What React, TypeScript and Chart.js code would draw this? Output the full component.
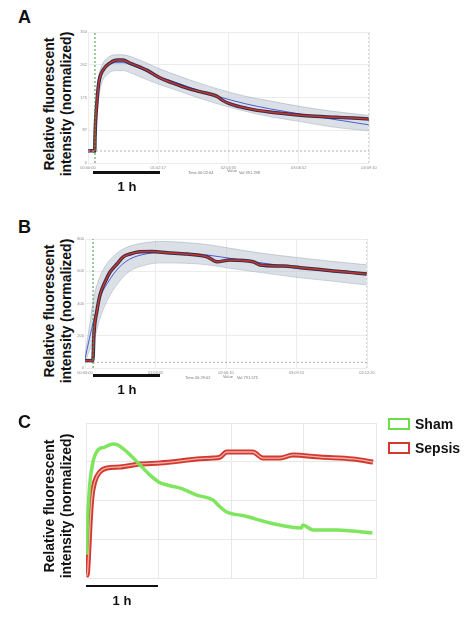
import React, { useEffect, useRef } from 'react';
import { Chart, registerables } from 'chart.js';

Chart.register(...registerables);

const FONT = 'Arial, "Liberation Sans", Helvetica, sans-serif';

// ---------------- Panel A (minutes, raw units) ----------------
const A_X_MAX = 249.2;
const A_X_TICKS = [0, 62.3, 124.6, 186.9, 249.2];
const A_X_LABELS = ['00:00:00', '01:02:17', '02:04:35', '03:06:52', '04:09:10'];
const A_Y_MAX = 350;
const A_Y_TICKS = [0, 87.5, 175, 262.5, 350];
const A_Y_LABELS = ['0', '87', '175', '262', '350'];
const A_INJECTION = 6.2;
const A_BASELINE = 32;
const A_DATA_T = [0, 3, 6.0, 6.2, 8.0, 9.8, 13.3, 19.5, 26, 31, 37, 52, 64, 75, 88, 100, 112, 115, 119, 126, 141, 161, 191, 206, 220, 235, 252];
const A_DATA_V = [32, 33, 32, 67, 166, 219, 248, 267, 275, 275, 267, 248, 227, 214, 200, 190, 181, 177, 168, 158, 146, 136, 127, 124, 122, 120, 117];
const A_FIT_T = [6.2, 7.5, 9, 12, 17, 24, 31, 40, 52, 64, 80, 100, 115, 140, 161, 190, 215, 249];
const A_FIT_V = [40, 130, 190, 235, 258, 268, 268, 260, 245, 230, 213, 192, 178, 158, 145, 130, 118, 102];
const A_BAND_HI = [70, 160, 218, 258, 280, 289, 289, 282, 267, 251, 233, 212, 198, 178, 166, 150, 139, 127];
const A_BAND_LO = [32, 100, 162, 212, 236, 247, 247, 238, 223, 209, 193, 172, 158, 138, 124, 110, 97, 86];

// ---------------- Panel B ----------------
const B_X_MAX = 252.3;
const B_X_TICKS = [0, 63.1, 126.2, 189.2, 252.3];
const B_X_LABELS = ['00:00:00', '01:03:05', '02:06:10', '03:09:15', '04:12:20'];
const B_Y_MAX = 800;
const B_Y_TICKS = [0, 200, 400, 600, 800];
const B_Y_LABELS = ['0', '200', '400', '600', '800'];
const B_INJECTION = 7.2;
const B_BASELINE = 35;
const B_DATA_T = [0, 3, 7.0, 8.1, 10.5, 13.4, 17.9, 22.4, 28.6, 34.0, 40.3, 49.2, 60, 73.4, 91.3, 109.2, 118.1, 129.7, 150.3, 156.6, 177.2, 192.4, 207.6, 221.9, 237.1, 252.3];
const B_DATA_V = [45, 46, 45, 223, 347, 452, 533, 595, 645, 688, 707, 721, 722, 715, 707, 690, 659, 670, 659, 639, 632, 622, 612, 601, 593, 583];
const B_FIT_T = [0, 4, 8, 13, 20, 30, 40, 55, 67, 90, 110, 130, 160, 190, 220, 252];
const B_FIT_V = [55, 185, 300, 430, 525, 620, 675, 708, 716, 712, 700, 680, 650, 622, 600, 578];
const B_BAND_HI = [80, 260, 440, 560, 650, 720, 755, 778, 785, 778, 765, 742, 710, 685, 662, 640];
const B_BAND_LO = [30, 110, 170, 300, 420, 530, 600, 640, 652, 650, 640, 618, 590, 562, 540, 515];

// ---------------- Panel C (hours, normalized) ----------------
const C_X_MAX = 4;
const C_Y_MAX = 1;
const C_SHAM_T = [0.005, 0.025, 0.055, 0.097, 0.166, 0.26, 0.37, 0.44, 0.61, 0.745, 0.88, 1.0, 1.12, 1.30, 1.53, 1.75, 1.85, 1.94, 2.19, 2.54, 2.97, 2.99, 3.13, 3.46, 3.68, 3.95];
const C_SHAM_V = [0.15, 0.41, 0.62, 0.75, 0.826, 0.845, 0.865, 0.858, 0.794, 0.729, 0.665, 0.62, 0.60, 0.58, 0.535, 0.503, 0.458, 0.426, 0.40, 0.355, 0.323, 0.342, 0.31, 0.31, 0.303, 0.29];
const C_SEPSIS_T = [0.0, 0.02, 0.03, 0.055, 0.08, 0.12, 0.19, 0.29, 0.47, 0.74, 1.02, 1.30, 1.53, 1.75, 1.85, 1.94, 2.30, 2.44, 2.68, 2.85, 3.23, 3.68, 3.96];
const C_SEPSIS_V = [0.01, 0.03, 0.10, 0.34, 0.516, 0.62, 0.684, 0.71, 0.716, 0.735, 0.742, 0.755, 0.768, 0.774, 0.78, 0.813, 0.813, 0.774, 0.774, 0.794, 0.78, 0.768, 0.748];
const C_LEGEND = ['Sham', 'Sepsis'];

const zip = (t: number[], v: number[]) => t.map((x, i) => ({ x, y: v[i] }));

type FitPanel = {
  xMax: number; xTicks: number[]; xLabels: string[];
  yMax: number; yTicks: number[]; yLabels: string[];
  inj: number; base: number;
  dataT: number[]; dataV: number[];
  fitT: number[]; fitV: number[]; hi: number[]; lo: number[];
  yw: number; xh: number; pt: number; pr: number;
};

function fitConfig(p: FitPanel): any {
  const smooth = { cubicInterpolationMode: 'monotone', pointRadius: 0 };
  return {
    type: 'line',
    data: {
      datasets: [
        { data: zip(p.fitT, p.hi), borderColor: 'rgba(160,175,190,0.8)', borderWidth: 0.7, backgroundColor: 'rgba(190,196,210,0.55)', fill: '+1', order: 10, ...smooth },
        { data: zip(p.fitT, p.lo), borderColor: 'rgba(160,175,190,0.8)', borderWidth: 0.7, fill: false, order: 10, ...smooth },
        { data: zip(p.fitT, p.fitV), borderColor: '#4a5ed8', borderWidth: 1, fill: false, order: 8, ...smooth },
        { data: zip(p.dataT, p.dataV), borderColor: '#34304e', borderWidth: 3.5, fill: false, order: 6, ...smooth },
        { data: zip(p.dataT, p.dataV), borderColor: '#c8352b', borderWidth: 1.5, fill: false, order: 4, ...smooth },
        { data: [{ x: p.inj, y: 0 }, { x: p.inj, y: p.yMax }], borderColor: '#3f9a3a', borderWidth: 1, borderDash: [2, 2], pointRadius: 0, fill: false, order: 1 },
        { data: [{ x: p.xMax, y: 0 }, { x: p.xMax, y: p.yMax }], borderColor: '#b0b0b0', borderWidth: 1, borderDash: [2, 2], pointRadius: 0, fill: false, order: 1 },
        { data: [{ x: 0, y: p.base }, { x: p.xMax, y: p.base }], borderColor: '#b0b0b0', borderWidth: 1, borderDash: [2, 2], pointRadius: 0, fill: false, order: 1 },
      ],
    },
    options: {
      animation: false,
      responsive: false,
      maintainAspectRatio: false,
      events: [],
      layout: { padding: { top: p.pt, right: p.pr, left: 0, bottom: 0 }, autoPadding: false },
      plugins: { legend: { display: false }, tooltip: { enabled: false } },
      scales: {
        x: {
          type: 'linear', min: 0, max: p.xMax,
          afterBuildTicks: (s: any) => { s.ticks = p.xTicks.map((v) => ({ value: v })); },
          afterFit: (s: any) => { s.height = p.xh; },
          ticks: { callback: (_v: any, i: number) => p.xLabels[i], font: { size: 4, family: FONT }, color: '#8a8a8a', padding: 2, maxRotation: 0, autoSkip: false },
          grid: { color: '#ececec', drawTicks: false },
          border: { display: false },
        },
        y: {
          type: 'linear', min: 0, max: p.yMax,
          afterBuildTicks: (s: any) => { s.ticks = p.yTicks.map((v) => ({ value: v })); },
          afterFit: (s: any) => { s.width = p.yw; },
          ticks: { callback: (_v: any, i: number) => p.yLabels[i], font: { size: 4, family: FONT }, color: '#8a8a8a', padding: 1, autoSkip: false },
          grid: { color: '#ececec', drawTicks: false },
          border: { display: false },
        },
      },
    },
  };
}

function compareConfig(): any {
  const smooth = { cubicInterpolationMode: 'monotone', pointRadius: 0, fill: false };
  return {
    type: 'line',
    data: {
      datasets: [
        { label: C_LEGEND[0], data: zip(C_SHAM_T, C_SHAM_V), borderColor: 'rgba(120,228,86,0.95)', borderWidth: 3.5, order: 1, ...smooth },
        { label: C_LEGEND[1], data: zip(C_SEPSIS_T, C_SEPSIS_V), borderColor: '#f2b0a8', borderWidth: 1.3, order: 2, ...smooth },
        { label: C_LEGEND[1], data: zip(C_SEPSIS_T, C_SEPSIS_V), borderColor: '#d23a30', borderWidth: 5, order: 3, ...smooth },
      ],
    },
    options: {
      animation: false,
      responsive: false,
      maintainAspectRatio: false,
      events: [],
      layout: { padding: { top: 10, right: 10, left: 0, bottom: 0 }, autoPadding: false },
      plugins: { legend: { display: false }, tooltip: { enabled: false } },
      scales: {
        x: {
          type: 'linear', min: 0, max: C_X_MAX,
          ticks: { display: false, stepSize: 1 },
          afterFit: (s: any) => { s.height = 10; },
          grid: { color: '#e8e8e8', drawTicks: false },
          border: { color: '#e8e8e8' },
        },
        y: {
          type: 'linear', min: 0, max: C_Y_MAX,
          ticks: { display: false, stepSize: 0.25 },
          afterFit: (s: any) => { s.width = 16; },
          grid: { color: '#e8e8e8', drawTicks: false },
          border: { color: '#e8e8e8' },
        },
      },
    },
  };
}

function ChartCanvas({ left, top, width, height, config }: { left: number; top: number; width: number; height: number; config: () => any }) {
  const ref = useRef<HTMLCanvasElement | null>(null);
  useEffect(() => {
    if (!ref.current) return;
    const chart = new Chart(ref.current, config());
    return () => chart.destroy();
  }, []);
  return (
    <canvas
      ref={ref}
      width={width}
      height={height}
      style={{ position: 'absolute', left, top, width, height }}
    />
  );
}

const txt = (l: number, t: number, size: number, extra: any = {}) => ({
  position: 'absolute' as const, left: l, top: t, fontFamily: FONT, fontSize: size,
  fontWeight: 'bold' as const, lineHeight: 1, color: '#111', whiteSpace: 'nowrap' as const, ...extra,
});

function YTitle({ cy }: { cy: number }) {
  return (
    <div
      style={{
        position: 'absolute', left: 58 - 90, top: cy - 17, width: 180, height: 34,
        transform: 'rotate(-90deg)', transformOrigin: '50% 50%', textAlign: 'center',
        fontFamily: FONT, fontSize: 14, fontWeight: 'bold', lineHeight: '17px', color: '#111', whiteSpace: 'nowrap',
      }}
    >
      Relative fluorescent<br />intensity (normalized)
    </div>
  );
}

function ScaleBar({ left, top, width, h }: { left: number; top: number; width: number; h: number }) {
  return <div style={{ position: 'absolute', left, top, width, height: h, background: '#111' }} />;
}

function Tiny({ l, t, s }: { l: number; t: number; s: string }) {
  return <div style={{ position: 'absolute', left: l, top: t, fontFamily: FONT, fontSize: 4, lineHeight: 1, color: '#777', whiteSpace: 'nowrap' }}>{s}</div>;
}

export default function App() {
  const panelA: FitPanel = {
    xMax: A_X_MAX, xTicks: A_X_TICKS, xLabels: A_X_LABELS, yMax: A_Y_MAX, yTicks: A_Y_TICKS, yLabels: A_Y_LABELS,
    inj: A_INJECTION, base: A_BASELINE, dataT: A_DATA_T, dataV: A_DATA_V, fitT: A_FIT_T, fitV: A_FIT_V, hi: A_BAND_HI, lo: A_BAND_LO,
    yw: 18, xh: 14, pt: 10, pr: 13,
  };
  const panelB: FitPanel = {
    xMax: B_X_MAX, xTicks: B_X_TICKS, xLabels: B_X_LABELS, yMax: B_Y_MAX, yTicks: B_Y_TICKS, yLabels: B_Y_LABELS,
    inj: B_INJECTION, base: B_BASELINE, dataT: B_DATA_T, dataV: B_DATA_V, fitT: B_FIT_T, fitV: B_FIT_V, hi: B_BAND_HI, lo: B_BAND_LO,
    yw: 19, xh: 11, pt: 10, pr: 15,
  };
  return (
    <div style={{ position: 'absolute', left: 0, top: 0, width: 474, height: 620, background: '#fff', overflow: 'hidden' }}>
      {/* Panel A */}
      <div style={txt(18, 8, 18)}>A</div>
      <YTitle cy={104} />
      <ChartCanvas left={70} top={22} width={312} height={155} config={() => fitConfig(panelA)} />
      <ScaleBar left={93} top={171} width={67} h={3} />
      <div style={txt(107, 180, 13, { width: 40, textAlign: 'center' })}>1 h</div>
      <Tiny l={188} t={171} s="Time 00:02:04" />
      <Tiny l={227} t={169} s="Value" />
      <Tiny l={239} t={171} s="Val 391.298" />

      {/* Panel B */}
      <div style={txt(18, 218, 18)}>B</div>
      <YTitle cy={311} />
      <ChartCanvas left={66} top={229} width={316} height={150} config={() => fitConfig(panelB)} />
      <ScaleBar left={93} top={374} width={67} h={3} />
      <div style={txt(107, 383, 13, { width: 40, textAlign: 'center' })}>1 h</div>
      <Tiny l={185} t={376} s="Time 00:29:02" />
      <Tiny l={223} t={375} s="Value" />
      <Tiny l={237} t={376} s="Val 791.575" />

      {/* Panel C */}
      <div style={txt(18, 413, 18)}>C</div>
      <YTitle cy={506} />
      <ChartCanvas left={70} top={413} width={316} height={175} config={compareConfig} />
      <ScaleBar left={86} top={585} width={72} h={2} />
      <div style={txt(102, 594, 13, { width: 40, textAlign: 'center' })}>1 h</div>

      {/* Legend C */}
      <div style={{ position: 'absolute', left: 388, top: 418, width: 22, height: 12, border: '2px solid #6cdc48', boxSizing: 'border-box' }} />
      <div style={txt(415, 417, 14)}>{C_LEGEND[0]}</div>
      <div style={{ position: 'absolute', left: 388, top: 442, width: 22, height: 12, border: '2px solid #d23a30', boxSizing: 'border-box' }} />
      <div style={txt(415, 441, 14)}>{C_LEGEND[1]}</div>
    </div>
  );
}
